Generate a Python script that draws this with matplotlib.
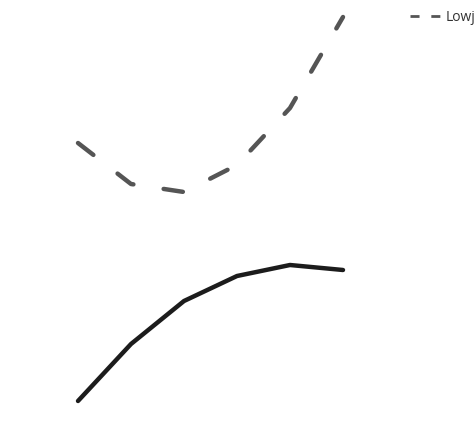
import matplotlib.pyplot as plt
from matplotlib.lines import Line2D

plt.rcParams['lines.scale_dashes'] = False

# data
x = [0, 1, 2, 3, 4, 5]
solida = [43, 100, 143, 168, 179, 174]
lowjo = [301, 260, 252, 279, 336, 427]
nombres = ["Serie", "Lowjo"]

fig = plt.figure(figsize=(4.74, 4.44), dpi=100)
ax = fig.add_axes([0, 0, 1, 1])

ax.plot(x, solida, color="#1c1c1c", lw=3.2, solid_capstyle="round",
        solid_joinstyle="round")
ax.plot(x, lowjo, color="#555555", lw=3.2, linestyle=(0, (14, 22)),
        dash_capstyle="round", dash_joinstyle="round")

ax.set_xlim(-78 / 53, 5 + 131 / 53)
ax.set_ylim(0, 444)
ax.axis("off")

# leyenda cortada por el borde de la figura, como en la imagen
manejos = [
    Line2D([], [], color="#1c1c1c", lw=2),
    Line2D([], [], color="#555555", lw=2, linestyle=(0, (6.5, 8.5))),
]
fig.legend(manejos, nombres, loc="upper left", bbox_to_anchor=(397 / 474, 1 + 30 / 444),
           frameon=False, handlelength=2.2, handletextpad=0.4,
           labelspacing=0.9, labelcolor="#333333", prop={"family": "Open Sans", "size": 10})

fig.savefig("out.png", dpi=100)
